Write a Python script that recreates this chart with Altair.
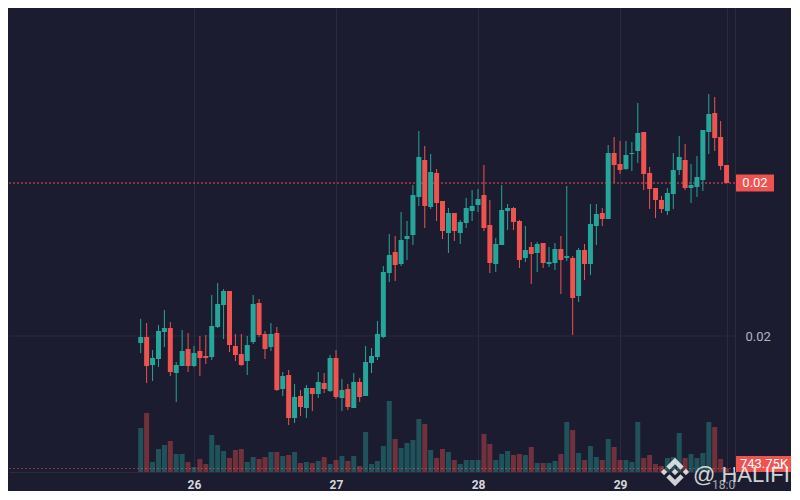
import altair as alt
import numpy as np
import pandas as pd

# ---------------- data (hourly candles, 25th 15:00 UTC .. 29th 18:00 UTC) ----------------
START = "2024-03-25T15:00:00Z"

OPEN = [0.01993, 0.01999, 0.01971, 0.01977, 0.02004, 0.02008, 0.01963, 0.01970, 0.01987, 0.01970,
        0.01985, 0.01980, 0.01979, 0.02009, 0.02031, 0.02045, 0.01990, 0.01982, 0.01975, 0.01994,
        0.02033, 0.02002, 0.01989, 0.02003, 0.01947, 0.01961, 0.01918, 0.01940, 0.01928, 0.01948,
        0.01942, 0.01953, 0.01945, 0.01978, 0.01938, 0.01947, 0.01928, 0.01954, 0.01940, 0.01973,
        0.01979, 0.01999, 0.02063, 0.02084, 0.02072, 0.02097, 0.02101, 0.02139, 0.02176, 0.02129,
        0.02163, 0.02135, 0.02103, 0.02123, 0.02103, 0.02113, 0.02125, 0.02131, 0.02141, 0.02111,
        0.02072, 0.02091, 0.02125, 0.02128, 0.02115, 0.02078, 0.02089, 0.02083, 0.02093, 0.02072,
        0.02073, 0.02087, 0.02078, 0.02078, 0.02040, 0.02086, 0.02072, 0.02110, 0.02123, 0.02117,
        0.02183, 0.02172, 0.02167, 0.02182, 0.02185, 0.02204, 0.02163, 0.02148, 0.02136, 0.02125,
        0.02142, 0.02166, 0.02176, 0.02148, 0.02149, 0.02156, 0.02204, 0.02223, 0.02199, 0.02171]

HIGH = [0.02017, 0.02013, 0.01986, 0.02011, 0.02026, 0.02014, 0.01974, 0.02006, 0.02003, 0.01990,
        0.02000, 0.02001, 0.02041, 0.02053, 0.02047, 0.02045, 0.02002, 0.02002, 0.02000, 0.02041,
        0.02037, 0.02005, 0.02013, 0.02009, 0.01964, 0.01966, 0.01952, 0.01946, 0.01951, 0.01948,
        0.01964, 0.01963, 0.01981, 0.01986, 0.01957, 0.01952, 0.01963, 0.01958, 0.01990, 0.01988,
        0.02015, 0.02070, 0.02102, 0.02100, 0.02124, 0.02115, 0.02151, 0.02205, 0.02190, 0.02182,
        0.02167, 0.02135, 0.02128, 0.02123, 0.02116, 0.02138, 0.02146, 0.02147, 0.02171, 0.02136,
        0.02098, 0.02151, 0.02132, 0.02129, 0.02116, 0.02110, 0.02094, 0.02094, 0.02093, 0.02089,
        0.02093, 0.02100, 0.02150, 0.02080, 0.02088, 0.02092, 0.02132, 0.02132, 0.02128, 0.02191,
        0.02199, 0.02195, 0.02195, 0.02194, 0.02233, 0.02204, 0.02169, 0.02148, 0.02140, 0.02148,
        0.02183, 0.02200, 0.02192, 0.02172, 0.02180, 0.02206, 0.02242, 0.02239, 0.02215, 0.02171]

LOW = [0.01983, 0.01953, 0.01955, 0.01969, 0.01989, 0.01960, 0.01934, 0.01970, 0.01964, 0.01969,
       0.01960, 0.01972, 0.01976, 0.02008, 0.01997, 0.01984, 0.01975, 0.01970, 0.01961, 0.01992,
       0.01999, 0.01977, 0.01985, 0.01945, 0.01940, 0.01911, 0.01913, 0.01920, 0.01918, 0.01925,
       0.01938, 0.01943, 0.01944, 0.01937, 0.01925, 0.01926, 0.01928, 0.01934, 0.01940, 0.01963,
       0.01976, 0.01998, 0.02054, 0.02055, 0.02070, 0.02076, 0.02091, 0.02130, 0.02108, 0.02127,
       0.02115, 0.02097, 0.02083, 0.02095, 0.02092, 0.02108, 0.02115, 0.02124, 0.02105, 0.02063,
       0.02064, 0.02091, 0.02106, 0.02106, 0.02068, 0.02074, 0.02052, 0.02064, 0.02068, 0.02069,
       0.02066, 0.02042, 0.02075, 0.02001, 0.02034, 0.02056, 0.02061, 0.02091, 0.02110, 0.02117,
       0.02153, 0.02162, 0.02166, 0.02165, 0.02173, 0.02146, 0.02127, 0.02118, 0.02123, 0.02121,
       0.02127, 0.02161, 0.02146, 0.02133, 0.02139, 0.02145, 0.02182, 0.02185, 0.02166, 0.02153]

CLOSE = [0.01999, 0.01970, 0.01978, 0.02005, 0.02008, 0.01964, 0.01971, 0.01985, 0.01970, 0.01983,
         0.01978, 0.01978, 0.02010, 0.02032, 0.02045, 0.01991, 0.01981, 0.01971, 0.01991, 0.02032,
         0.02001, 0.01987, 0.02002, 0.01946, 0.01960, 0.01918, 0.01939, 0.01929, 0.01948, 0.01942,
         0.01954, 0.01947, 0.01978, 0.01939, 0.01946, 0.01929, 0.01954, 0.01939, 0.01974, 0.01980,
         0.02002, 0.02064, 0.02081, 0.02071, 0.02096, 0.02100, 0.02141, 0.02179, 0.02130, 0.02164,
         0.02133, 0.02105, 0.02123, 0.02105, 0.02114, 0.02128, 0.02130, 0.02137, 0.02108, 0.02073,
         0.02092, 0.02126, 0.02128, 0.02114, 0.02076, 0.02086, 0.02082, 0.02092, 0.02073, 0.02074,
         0.02087, 0.02076, 0.02080, 0.02038, 0.02086, 0.02072, 0.02112, 0.02122, 0.02117, 0.02183,
         0.02171, 0.02166, 0.02181, 0.02183, 0.02203, 0.02162, 0.02147, 0.02136, 0.02127, 0.02143,
         0.02166, 0.02179, 0.02148, 0.02151, 0.02159, 0.02206, 0.02222, 0.02198, 0.02170, 0.02153]

# volume, in thousands
VOLUME_K = [9350, 12537.5, 2125, 4887.5, 5737.5, 6587.5, 3825, 3825, 2125, 1062.5,
            2762.5, 1700, 7862.5, 5737.5, 4462.5, 2975, 4675, 4887.5, 2125, 3187.5,
            2762.5, 3187.5, 4250, 4250, 3400, 3612.5, 4250, 1912.5, 2125, 1912.5,
            2337.5, 3187.5, 1700, 2550, 3400, 2337.5, 3400, 1275, 8500, 1700,
            2337.5, 5525, 15087.5, 7012.5, 5100, 6162.5, 6800, 11262.5, 10200, 4675,
            2975, 4887.5, 4250, 2550, 1700, 2550, 2550, 2550, 8075, 5950,
            2550, 3825, 4462.5, 3612.5, 3825, 3612.5, 5312.5, 1912.5, 1912.5, 1912.5,
            2337.5, 3825, 10625, 8925, 4037.5, 2550, 5525, 3187.5, 2550, 7012.5,
            5312.5, 2550, 2550, 2125, 10625, 2975, 3612.5, 1700, 1275, 2975,
            3187.5, 8287.5, 2975, 3825, 2975, 4037.5, 10625, 9562.5, 2762.5, 743.75]

X_TICKS = ["2024-03-26T00:00:00Z", "2024-03-27T00:00:00Z", "2024-03-28T00:00:00Z",
           "2024-03-29T00:00:00Z", "2024-03-29T18:00:00Z"]
X_DOMAIN = ["2024-03-24T17:35:00Z", "2024-03-29T18:35:00Z"]
PRICE_DOMAIN = [0.01864, 0.02328]
PRICE_GRID = [0.02]
VOLUME_DOMAIN_K = [0, 98600]
WATERMARK = "@ HALIFI"

# ---------------- styling ----------------
W, H = 726, 464
BG = "#1b1c2f"
GRID = "#2a2b3f"
UP = "#26a69a"
DOWN = "#ef5350"
FONT = "Roboto"

times = pd.date_range(START, periods=len(OPEN), freq="h")
df = pd.DataFrame({
    "t": times.strftime("%Y-%m-%dT%H:%M:%SZ"),
    "open": OPEN, "high": HIGH, "low": LOW, "close": CLOSE, "vol": VOLUME_K,
})
df["dir"] = np.where(df["close"] >= df["open"], "up", "down")
last = df.iloc[[-1]].reset_index(drop=True)
grid_df = pd.DataFrame({"price": PRICE_GRID})

def ms(s):
    return int(pd.Timestamp(s).value // 10**6)

x_scale = alt.Scale(type="utc", domain=[ms(d) for d in X_DOMAIN], nice=False)
x_axis = alt.Axis(
    values=[ms(v) for v in X_TICKS],
    labelExpr="utchours(datum.value) == 0 ? utcFormat(datum.value, '%d') : utcFormat(datum.value, '%H:%M')",
    grid=True, gridColor=GRID, gridWidth=1,
    ticks=False, tickSize=0, domain=True, domainColor=GRID,
    labelPadding=7, labelFontSize=12, labelFont=FONT,
    labelFontWeight={"condition": {"test": "utchours(datum.value) == 18", "value": "normal"}, "value": "bold"},
    labelColor={"condition": {"test": "utchours(datum.value) == 18", "value": "#a9acb5"}, "value": "#d6d7dc"},
    labelFlush=False, labelOverlap=False, title=None, zindex=0,
)
X = alt.X("t:T", scale=x_scale, axis=x_axis, title=None)

p_scale = alt.Scale(domain=PRICE_DOMAIN, nice=False, zero=False)
p_axis = alt.Axis(
    orient="right", values=PRICE_GRID, format=".2f", grid=False,
    ticks=False, tickSize=0, domain=True, domainColor=GRID,
    labelPadding=10, labelFontSize=13, labelFont=FONT, labelColor="#b2b5be",
    title=None, zindex=1,
)
v_scale = alt.Scale(domain=VOLUME_DOMAIN_K, nice=False, zero=True)

color = alt.Color("dir:N", scale=alt.Scale(domain=["up", "down"], range=[UP, DOWN]), legend=None)

# cover for the part of the time axis that runs under the price scale
cover = alt.Chart(last).mark_rect(color=BG).encode(
    x=alt.value(W + 1), x2=alt.value(780), y=alt.value(H + 1), y2=alt.value(H + 19)
)

grid_rule = alt.Chart(grid_df).mark_rule(color=GRID, strokeWidth=1).encode(
    y=alt.Y("price:Q", scale=p_scale, axis=p_axis)
)
price_line = alt.Chart(last).mark_rule(color=DOWN, strokeWidth=1, strokeDash=[2, 2]).encode(
    y=alt.Y("close:Q", scale=p_scale, axis=p_axis)
)
wicks = alt.Chart(df).mark_rule(strokeWidth=1).encode(
    x=X, y=alt.Y("low:Q", scale=p_scale, axis=p_axis), y2="high:Q", color=color
)
bodies = alt.Chart(df).mark_bar(size=5).encode(
    x=X, y=alt.Y("open:Q", scale=p_scale, axis=p_axis), y2="close:Q", color=color
)
price_box = alt.Chart(last).mark_rect(color=DOWN, yOffset=-8.5, y2Offset=8.5).encode(
    x=alt.value(W), x2=alt.value(W + 39),
    y=alt.Y("close:Q", scale=p_scale, axis=p_axis), y2="close:Q",
)
price_txt = alt.Chart(last).mark_text(color="white", fontSize=13, font=FONT, align="center", baseline="middle").encode(
    x=alt.value(W + 20), y=alt.Y("close:Q", scale=p_scale, axis=p_axis),
    text=alt.Text("close:Q", format=".2f"),
)
price = alt.layer(grid_rule, price_line, wicks, bodies, price_box, price_txt)

vol_bars = alt.Chart(df).mark_bar(size=5, opacity=0.4).encode(
    x=X, y=alt.Y("vol:Q", scale=v_scale, axis=None), color=color
)
vol_line = alt.Chart(last).mark_rule(color=DOWN, opacity=0.5, strokeWidth=1, strokeDash=[2, 2]).encode(
    y=alt.Y("vol:Q", scale=v_scale, axis=None)
)
vol_box = alt.Chart(last).mark_rect(color=DOWN, yOffset=-12.5, y2Offset=3.5).encode(
    x=alt.value(W), x2=alt.value(782),
    y=alt.Y("vol:Q", scale=v_scale, axis=None), y2="vol:Q",
)
vol_txt = alt.Chart(last).transform_calculate(
    lbl="format(datum.vol, '.2f') + 'K'"
).mark_text(color="white", fontSize=13, font=FONT, align="center", baseline="middle", yOffset=-4.5).encode(
    x=alt.value(755), y=alt.Y("vol:Q", scale=v_scale, axis=None), text="lbl:N"
)
volume = alt.layer(vol_bars, vol_line, vol_box, vol_txt)

LOGO = ("M-0.388,-0.16L0,-0.548L0.388,-0.159L0.614,-0.385L0,-1L-0.614,-0.385Z"
        "M-1,0L-0.774,-0.226L-0.548,0L-0.774,0.226Z"
        "M-0.388,0.16L0,0.548L0.388,0.159L0.614,0.385L0,1L-0.614,0.385Z"
        "M0.548,0L0.774,-0.226L1,0L0.774,0.226Z"
        "M0.23,0L0,-0.23L-0.23,0L0,0.23Z")
logo = alt.Chart(last).mark_point(shape=LOGO, filled=True, size=800, color="white", opacity=0.8, strokeWidth=0).encode(
    x=alt.value(666), y=alt.value(464)
)
wm_text = alt.Chart(last).mark_text(
    text=WATERMARK, color="white", opacity=0.8, fontSize=22, font="Liberation Sans",
    align="left", baseline="alphabetic"
).encode(x=alt.value(684), y=alt.value(474))

chart = alt.layer(cover, price, volume, logo, wm_text).resolve_scale(
    y="independent"
).properties(
    width=W, height=H, padding=0
).configure(
    background=BG, font=FONT
).configure_view(stroke=None)

chart.save("out.html", embed_options={"renderer": "svg", "actions": False})
